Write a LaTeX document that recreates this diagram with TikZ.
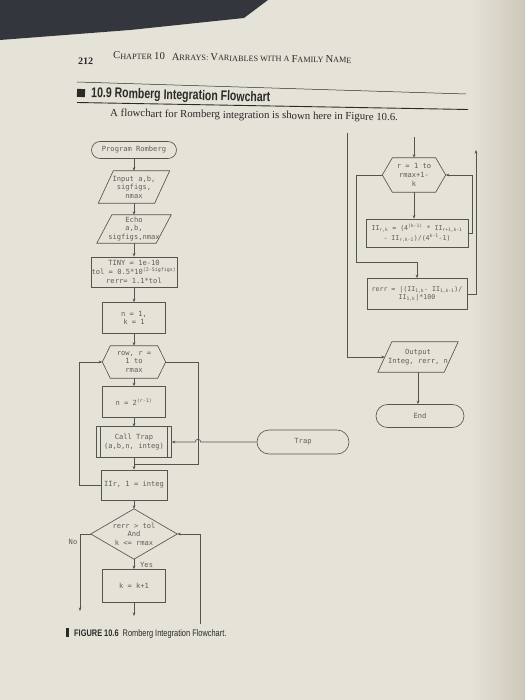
\documentclass[tikz,border=0pt]{standalone}
\usepackage{fontspec}
\setmainfont{Liberation Serif}
\newfontfamily\fcfont{DejaVu Sans Mono}
\newfontfamily\headsans[FakeStretch=0.75]{Liberation Sans}
\newfontfamily\capsans[FakeStretch=0.78]{Liberation Sans}
\usetikzlibrary{arrows.meta,calc}
\definecolor{paper}{HTML}{E5E2D7}
\definecolor{paperdark}{HTML}{CDC8BA}
\definecolor{ink}{HTML}{55544F}
\definecolor{txt}{HTML}{5E5D58}
\definecolor{printk}{HTML}{2B2A28}
\definecolor{calcbody}{HTML}{33363C}
\newcommand{\drawpara}[2]{\draw[line] ([xshift=#2]#1.north west) -- (#1.north east) -- ([xshift=-#2]#1.south east) -- (#1.south west) -- cycle;}
\newcommand{\drawhex}[2]{\draw[line] (#1.west) -- ([xshift=#2]#1.north west) -- ([xshift=-#2]#1.north east) -- (#1.east) -- ([xshift=-#2]#1.south east) -- ([xshift=#2]#1.south west) -- cycle;}
\newcommand{\drawdia}[1]{\draw[line] (#1.north) -- (#1.east) -- (#1.south) -- (#1.west) -- cycle;}
\newcommand{\drawpred}[2]{\draw[line] (#1.north west) rectangle (#1.south east); \draw[line] ([xshift=#2]#1.north west) -- ([xshift=#2]#1.south west); \draw[line] ([xshift=-#2]#1.north east) -- ([xshift=-#2]#1.south east);}
\newcommand{\sbs}[1]{\textsubscript{#1}}
\newcommand{\sps}[1]{\textsuperscript{#1}}
\newcommand{\bigc}[1]{{\fontsize{10.6}{11}\selectfont #1}}
\begin{document}
\begin{tikzpicture}[x=1pt,y=-1pt,
 line/.style={draw=ink,line width=0.65pt},
 arr/.style={draw=ink,line width=0.65pt,-{Stealth[length=3.6pt,width=2.8pt]}},
 fc/.style={font=\fcfont\fontsize{7.1}{8.6}\selectfont,text=txt,align=center,inner sep=0pt},
 fcs/.style={font=\fcfont\fontsize{6.6}{8}\selectfont,text=txt,align=center,inner sep=0pt},
 sz/.style 2 args={minimum width=#1,minimum height=#2},
 prnt/.style={anchor=base west,inner sep=0pt,text=printk}
]
\fill[paper] (0,0) rectangle (525,700);
\shade[left color=paper,right color=paperdark] (470,0) rectangle (525,700);
\fill[calcbody] (0,0) -- (268,0) -- (244,18) -- (130,30) -- (0,40) -- cycle;
\useasboundingbox (0,0) rectangle (525,700);

% header
\node[prnt,font=\fontsize{10}{12}\selectfont\bfseries,rotate=-1] (pg) at (78,64) {212};
\node[prnt,font=\fontsize{8.2}{10}\selectfont,rotate=-1] (chap) at (113,59) {\bigc{C}HAPTER \bigc{10}\hspace{7pt}\bigc{A}RRAYS: \bigc{V}ARIABLES WITH A \bigc{F}AMILY \bigc{N}AME};
\draw[printk,line width=0.5pt] (77,82) -- (466,94);
\fill[printk,rotate around={-1.6:(81,93)}] (77,89) rectangle (85,97);
\node[prnt,font=\headsans\fontsize{14}{16}\selectfont\bfseries,rotate=-1.6] (sec) at (91,97) {10.9 Romberg Integration Flowchart};
\draw[printk,line width=0.9pt] (77,102.5) -- (468,109.5);
\node[prnt,font=\fontsize{10.8}{12}\selectfont,rotate=-0.8] (intro) at (110,116.5) {A flowchart for Romberg integration is shown here in Figure 10.6.};

% left column
\node[fc,line,sz={85}{17},rounded corners=8.5pt] (prog) at (134,150) {Program Romberg};
\node[fc,sz={71}{32}] (inp) at (134,187) {Input a,b,\\sigfigs,\\nmax};
\drawpara{inp}{15}
\node[fc,sz={74}{28}] (echo) at (134,229) {Echo\\a,b,\\sigfigs,nmax};
\drawpara{echo}{15}
\node[fc,line,sz={86}{30}] (tiny) at (134,272) {TINY = 1e-10\\tol = 0.5*10\sps{(2-Sigfigs)}\\rerr= 1.1*tol};
\node[fc,line,sz={63}{31}] (nk) at (134,318) {n = 1,\\k = 1};
\node[fc,sz={63}{32}] (hexa) at (134,362) {row, r =\\1 to\\rmax};
\drawhex{hexa}{8}
\node[fc,line,sz={63}{31}] (ntwo) at (134,402) {n = 2\sps{(r-1)}};
\node[fc,sz={75}{30}] (call) at (134,442) {Call Trap\\(a,b,n, integ)};
\drawpred{call}{4}
\node[fc,line,sz={66}{30}] (iir) at (134,485) {IIr, 1 = integ};
\node[fc,sz={86}{50}] (dia) at (134,534) {rerr > tol\\And\\k <= rmax};
\drawdia{dia}
\node[fc,line,sz={63}{33}] (kk) at (134,586) {k = k+1};
\node[fc,anchor=west] (yes) at (140,565) {Yes};
\node[fc] (no) at (73,542) {No};

\draw[arr] (prog) -- (inp);
\draw[arr] (inp) -- (echo);
\draw[arr] (echo) -- (tiny);
\draw[arr] (tiny) -- (nk);
\draw[arr] (nk) -- (hexa);
\draw[arr] (hexa) -- (ntwo);
\draw[arr] (ntwo) -- (call);
\draw[arr] (call) -- (iir);
\draw[arr] (iir) -- (dia);
\draw[arr] (dia.south) -- (kk.north);
\coordinate (kout) at (134,616);
\draw[arr] (kk) -- (kout);
\coordinate (noout) at (80,611);
\draw[arr] (dia.west) -| (noout);
\coordinate (rin) at (200,624);
\draw[arr] (rin) |- (dia.east);
\draw[arr] (iir.west) -- ++(-21,0) |- (hexa.west);
\coordinate (jn) at (134,464);
\draw[line] (hexa.east) -- ++(32.5,0) |- (jn);

% trap
\node[fc,line,sz={92}{24},rounded corners=12pt] (trap) at (303,442) {Trap};
\coordinate (hop) at (198,442);
\draw[arr] (trap.west) -- ([xshift=2.8pt]hop) arc[start angle=0,end angle=180,radius=2.8pt] -- (call.east);

% right column
\node[fc,sz={63}{34}] (hexb) at (414,175) {r = 1 to\\rmax+1-\\k};
\drawhex{hexb}{10}
\node[fcs,line,sz={102}{28}] (iib) at (417,233) {II\sbs{r,k} = (4\sps{(k-1)} * II\sbs{r+1,k-1}\\- II\sbs{r,k-1})/(4\sps{k-1}-1)};
\node[fcs,line,sz={100}{31}] (rerrb) at (417,294) {rerr = |(II\sbs{1,k}- II\sbs{1,k-1})/\\II\sbs{1,k}|*100};
\node[fc,sz={80}{30}] (out) at (418,357) {Output\\Integ, rerr, n};
\drawpara{out}{14}
\node[fc,line,sz={88}{23},rounded corners=11.5pt] (endn) at (420,416) {End};

\coordinate (t1) at (347,133);
\draw[arr] (t1) |- ([xshift=7pt]out.west);
\coordinate (t2) at (414,137);
\draw[arr] (t2) -- (hexb);
\draw[arr] (hexb.south) -- (hexb.south |- iib.north);
\draw[arr] (iib.east) -- ++(4,0) |- (hexb.east);
\coordinate (jr) at (417,262);
\draw[arr] (hexb.west) -- ++(-25.5,0) |- (jr) -- (rerrb.north);
\coordinate (t3) at (476,150);
\draw[arr] (rerrb.east) -| (t3);
\draw[arr] (out.south) -- (out.south |- endn.north);

% caption
\fill[printk] (66,628) rectangle (68.5,637);
\node[prnt,font=\capsans\fontsize{9.5}{11}\selectfont] (cap) at (74,636) {\textbf{FIGURE 10.6}\hspace{4pt}Romberg Integration Flowchart.};
\end{tikzpicture}
\end{document}
